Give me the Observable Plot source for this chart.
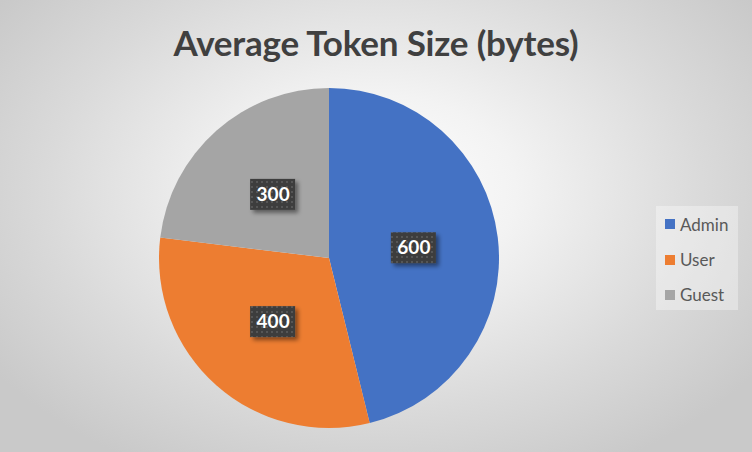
<!DOCTYPE html>
<html><head><meta charset="utf-8">
<script src="https://cdn.jsdelivr.net/npm/d3@7"></script>
<script src="https://cdn.jsdelivr.net/npm/@observablehq/plot@0.6"></script>
<style>
html,body{margin:0;padding:0;background:#fff;}
#chart{position:relative;width:752px;height:452px;overflow:hidden;
  background:radial-gradient(ellipse 62% 70% at 50% 42%, #ffffff 0%, #f3f3f3 30%, #dadada 70%, #c9c9c9 100%);
  font-family:Lato,"Open Sans",sans-serif;}
#title{position:absolute;left:0;top:21px;width:752px;text-align:center;font-weight:700;font-size:35px;line-height:42px;color:#404040;letter-spacing:-0.2px;}
#plot{position:absolute;left:0;top:75px;}
#legend{position:absolute;left:656px;top:206px;width:82px;height:104px;background:rgba(255,255,255,0.35);}
.item{position:absolute;left:9px;height:20px;display:flex;align-items:center;font-size:17px;color:#595959;}
.sw{width:10px;height:10px;margin-right:5px;}
</style>
</head><body>
<div id="chart">
  <div id="title"></div>
  <div id="plot"></div>
  <div id="legend"></div>
</div>
<script>
const title = "Average Token Size (bytes)";
const categories = ["Admin", "User", "Guest"];
const values = [600, 400, 300];
const colors = ["#4472C4", "#ED7D31", "#A5A5A5"];

document.getElementById("title").textContent = title;

const rows = categories.map((c, i) => ({category: c, value: values[i]}));
const arcs = d3.pie().sort(null).value(d => d.value)(rows);
// label anchors at half the radius along each slice's mid-angle
const labels = arcs.map(a => {
  const m = (a.startAngle + a.endAngle) / 2;
  return {category: a.data.category, value: a.data.value, lx: 0.5 * Math.sin(m), ly: 0.5 * Math.cos(m)};
});

const W = 752, H = 377, cx = 329, cy = 183, R = 170;

function pieMark(index, scales) {
  const x0 = scales.x(0), y0 = scales.y(0), r = scales.x(1) - scales.x(0);
  const arc = d3.arc().innerRadius(0).outerRadius(r);
  const g = d3.create("svg:g").attr("transform", `translate(${x0},${y0})`);
  g.selectAll("path").data(arcs).join("path")
    .attr("d", arc)
    .attr("fill", d => scales.color(d.data.category));
  return g.node();
}

function boxMark(index, scales) {
  const g = d3.create("svg:g");
  const defs = g.append("defs");
  const p = defs.append("pattern").attr("id", "dots").attr("width", 5).attr("height", 5)
    .attr("patternUnits", "userSpaceOnUse");
  p.append("rect").attr("width", 5).attr("height", 5).attr("fill", "#3d3d3d");
  p.append("rect").attr("x", 1).attr("y", 1).attr("width", 2).attr("height", 2).attr("fill", "#575757");
  const f = defs.append("filter").attr("id", "shadow").attr("x", "-30%").attr("y", "-30%").attr("width", "170%").attr("height", "170%");
  f.append("feDropShadow").attr("dx", 3).attr("dy", 3).attr("stdDeviation", 2)
    .attr("flood-color", "#000").attr("flood-opacity", 0.45);
  g.selectAll("rect.box").data(labels).join("rect").attr("class", "box")
    .attr("x", d => scales.x(d.lx) - 22.5)
    .attr("y", d => scales.y(d.ly) - 15.5)
    .attr("width", 45).attr("height", 31)
    .attr("fill", "url(#dots)")
    .attr("filter", "url(#shadow)");
  return g.node();
}

const plot = Plot.plot({
  width: W, height: H,
  margin: 0,
  style: {background: "transparent", overflow: "visible"},
  x: {domain: [-1, 1], range: [cx - R, cx + R], axis: null},
  y: {domain: [-1, 1], range: [cy + R, cy - R], axis: null},
  color: {domain: categories, range: colors},
  marks: [
    Plot.dot(rows, {x: () => 0, y: () => 0, fill: "category", r: 0}),
    pieMark,
    boxMark,
    Plot.text(labels, {
      x: "lx", y: "ly", text: d => String(d.value),
      fill: "white", fontWeight: "bold", fontSize: 19,
      fontFamily: "Lato, 'Open Sans', sans-serif"
    })
  ]
});
document.getElementById("plot").appendChild(plot);

const legend = d3.select("#legend");
const tops = [13, 48.5, 83.5];
categories.forEach((c, i) => {
  const it = legend.append("div").attr("class", "item").style("top", (tops[i] - 5) + "px");
  it.append("div").attr("class", "sw").style("background", colors[i]);
  it.append("span").text(c);
});
</script>
</body></html>
